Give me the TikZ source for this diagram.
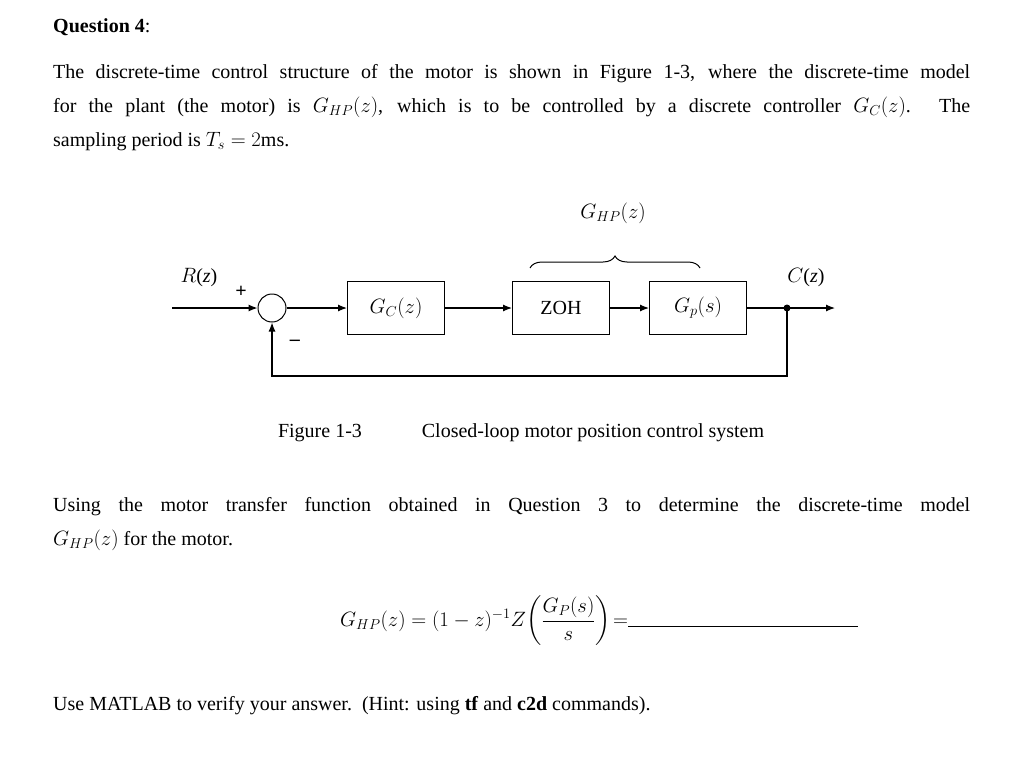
\documentclass[tikz,border=0pt]{standalone}
\usepackage{amsmath}
\usepackage{fontspec}
\setmainfont{Liberation Serif}
\usetikzlibrary{positioning,decorations.pathreplacing,arrows.meta}
\newcommand{\txfont}{\fontsize{20}{34}\selectfont}
\tikzset{
  every node/.style={font=\txfont},
  block/.style={draw, line width=1pt, minimum width=97pt, minimum height=53pt},
  sig/.style={-{Latex[length=9pt,width=7pt]}, line width=1.2pt},
  wire/.style={line width=1.2pt}
}
\begin{document}
\begin{tikzpicture}[x=1pt, y=-1pt]
    \useasboundingbox (0,0) rectangle (1024,760);

    % Text
    \node (title) [anchor=west, inner sep=0pt] at (53,27) {\textbf{Question 4}:};
    \node (para) [anchor=north west, inner sep=0pt, text width=917pt, align=justify] at (53,64)
      {The discrete-time control structure of the motor is shown in Figure 1-3, where the discrete-time model\linebreak for the plant (the motor) is $G_{HP}(z)$, which is to be controlled by a discrete controller $G_C(z)$. The\linebreak sampling period is $T_s=2\text{ms}$.};

    % Blocks
    \node (sum) at (272,308) [draw, circle, line width=1pt, minimum size=28pt, inner sep=0pt] {};
    \node (gc) at (396,308) [block] {$G_C(z)$};
    \node (zoh) at (561,308) [block] {ZOH};
    \node (gp) at (698,308) [block] {$G_p(s)$};
    \coordinate (split) at (787,308);
    \coordinate (out) at (835,308);
    \coordinate (in) at (172,308);
    \coordinate (fb) at (787,376);
    \fill (split) circle (3.5pt);

    % Signals
    \draw[sig] (in) -- (sum);
    \draw[sig] (sum) -- (gc);
    \draw[sig] (gc) -- (zoh);
    \draw[sig] (zoh) -- (gp);
    \draw[sig] (gp) -- (out);
    \draw[sig] (split) -- (fb) -| (sum);

    \node (rlab) at (199,278) {$R$(\textit{z})};
    \node (clab) at (806,278) {$C$(\textit{z})};
    \node (plus) at (241,292) {\textbf{+}};
    \node (minus) at (295,343) {\textbf{--}};

    \draw[line width=1pt, decorate, decoration={brace, amplitude=12pt}] (530,268) -- (700,268);
    \node (ghp) at (613,213) {$G_{HP}(z)$};

    % Caption
    \node (fig) at (320,433) {Figure 1-3};
    \node (cap) at (593,433) {Closed-loop motor position control system};

    \node (para2) [anchor=north west, inner sep=0pt, text width=917pt, align=justify] at (53,497)
      {Using the motor transfer function obtained in Question 3 to determine the discrete-time model\linebreak $G_{HP}(z)$ for the motor.};

    \node (eq) [anchor=west, inner sep=0pt] at (340,621) {$G_{HP}(z)=(1-z)^{-1}Z\!\left(\dfrac{G_P(s)}{s}\right)\!=$};
    \coordinate (blank) at (858,626);
    \draw[line width=1pt] (eq.east |- blank) -- (blank);

    \node (hint) [anchor=west, inner sep=0pt] at (53,706) {Use MATLAB to verify your answer.\ \ (Hint: using \textbf{tf} and \textbf{c2d} commands).};
\end{tikzpicture}
\end{document}
